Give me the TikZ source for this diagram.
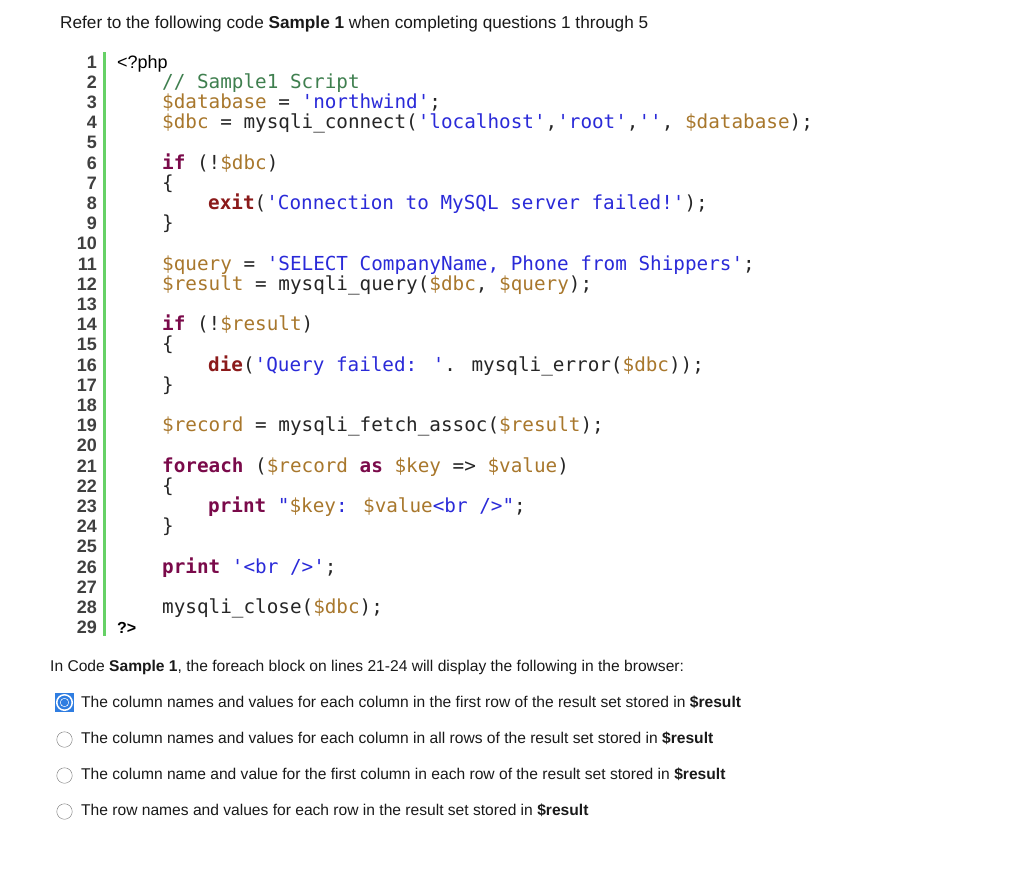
\documentclass[tikz,border=0pt]{standalone}
\usepackage{fontspec}
\setmainfont{Liberation Sans}
\newfontfamily\codefont{DejaVu Sans Mono}
\definecolor{cvarc}{HTML}{A8772C}
\definecolor{cstrc}{HTML}{2A2AD8}
\definecolor{ckwc}{HTML}{7A0A4A}
\definecolor{cfnc}{HTML}{8B1A1A}
\definecolor{ccomc}{HTML}{3F7F4F}
\definecolor{radioblue}{HTML}{2F7DE1}
\newcommand{\cvar}[1]{\textcolor{cvarc}{#1}}
\newcommand{\cstr}[1]{\textcolor{cstrc}{#1}}
\newcommand{\ckw}[1]{\textcolor{ckwc}{\bfseries #1}}
\newcommand{\cfn}[1]{\textcolor{cfnc}{\bfseries #1}}
\tikzset{
  code/.style={anchor=base west,inner sep=0pt,font=\codefont\fontsize{19.3}{20}\selectfont,text=black!85},
  lnum/.style={anchor=base east,inner sep=0pt,font=\fontsize{18}{18}\selectfont\bfseries,text=black!75},
  txt/.style={anchor=base west,inner sep=0pt,font=\fontsize{15.6}{17}\selectfont,text=black!90},
  radio/.style={circle,draw=black!55,minimum size=15.5pt,inner sep=0pt}
}
\begin{document}
\begin{tikzpicture}[x=1pt,y=-1pt]
  \useasboundingbox (0,0) rectangle (1024,871);
  \node[txt,font=\fontsize{17.2}{18}\selectfont] (title) at (60,28) {Refer to the following code \textbf{Sample 1} when completing questions 1 through 5};
  % line numbers
  \foreach \i in {1,...,29} {
    \node[lnum] (n\i) at (97,{68+20.2*(\i-1)}) {\i};
  }
  \draw[green!70!black!60,line width=3pt] (104,52) -- (104,636);
  % code
  \node[anchor=base west,inner sep=0pt,font=\fontsize{18}{18}\selectfont] (l1) at (117,68) {<?php};
  \node[code] (l2) at (162,88.2) {\textcolor{ccomc}{// Sample1 Script}};
  \node[code] (l3) at (162,108.4) {\cvar{\$database} = \cstr{'northwind'};};
  \node[code] (l4) at (162,128.6) {\cvar{\$dbc} = mysqli\_connect(\cstr{'localhost'},\cstr{'root'},\cstr{''}, \cvar{\$database});};
  \node[code] (l6) at (162,169) {\ckw{if} (!\cvar{\$dbc})};
  \node[code] (l7) at (162,189.2) {\{};
  \node[code] (l8) at (208,209.4) {\cfn{exit}(\cstr{'Connection to MySQL server failed!'});};
  \node[code] (l9) at (162,229.6) {\}};
  \node[code] (l11) at (162,270) {\cvar{\$query} = \cstr{'SELECT CompanyName, Phone from Shippers'};};
  \node[code] (l12) at (162,290.2) {\cvar{\$result} = mysqli\_query(\cvar{\$dbc}, \cvar{\$query});};
  \node[code] (l14) at (162,330.6) {\ckw{if} (!\cvar{\$result})};
  \node[code] (l15) at (162,350.8) {\{};
  \node[code] (l16) at (208,371) {\cfn{die}(\cstr{'Query failed: '}. mysqli\_error(\cvar{\$dbc}));};
  \node[code] (l17) at (162,391.2) {\}};
  \node[code] (l19) at (162,431.6) {\cvar{\$record} = mysqli\_fetch\_assoc(\cvar{\$result});};
  \node[code] (l21) at (162,472) {\ckw{foreach} (\cvar{\$record} \ckw{as} \cvar{\$key} => \cvar{\$value})};
  \node[code] (l22) at (162,492.2) {\{};
  \node[code] (l23) at (208,512.4) {\ckw{print} \cstr{"}\cvar{\$key}\cstr{: }\cvar{\$value}\cstr{<br />"};};
  \node[code] (l24) at (162,532.6) {\}};
  \node[code] (l26) at (162,573) {\ckw{print} \cstr{'<br />'};};
  \node[code] (l28) at (162,613.4) {mysqli\_close(\cvar{\$dbc});};
  \node[anchor=base west,inner sep=0pt,font=\fontsize{16}{18}\selectfont\bfseries] (l29) at (117,633.6) {?>};
  % question
  \node[txt] (q) at (50,671) {In Code \textbf{Sample 1}, the foreach block on lines 21-24 will display the following in the browser:};
  \fill[radioblue] (55,693) rectangle (74,712);
  \node[radio,draw=white,line width=1.5pt,fill=radioblue] (r1) at (64.5,702.5) {};
  \fill[white] (r1) circle (4.5pt);
  \fill[radioblue] (r1) circle (3.8pt);
  \node[radio] (r2) at (64.5,739.5) {};
  \node[radio] (r3) at (64.5,775.5) {};
  \node[radio] (r4) at (64.5,811.5) {};
  \node[txt] (a1) at (81,707) {The column names and values for each column in the first row of the result set stored in \textbf{\$result}};
  \node[txt] (a2) at (81,743) {The column names and values for each column in all rows of the result set stored in \textbf{\$result}};
  \node[txt] (a3) at (81,779) {The column name and value for the first column in each row of the result set stored in \textbf{\$result}};
  \node[txt] (a4) at (81,815) {The row names and values for each row in the result set stored in \textbf{\$result}};
\end{tikzpicture}
\end{document}
